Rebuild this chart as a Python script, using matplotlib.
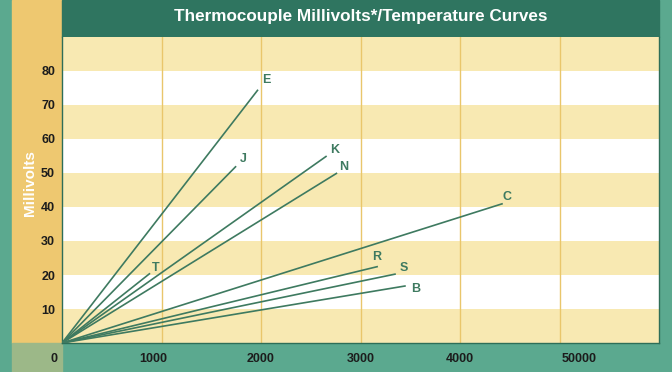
import matplotlib.pyplot as plt
import matplotlib.patches as mpatches
from matplotlib.transforms import ScaledTranslation

# curve end points (temperature, millivolts); all curves start at 0,0
curve_names = ['E', 'J', 'K', 'N', 'T', 'C', 'R', 'S', 'B']
end_temp = [1970, 1750, 2660, 2765, 885, 4430, 3175, 3355, 3455]
end_mv = [74.5, 52, 55, 50, 20.5, 41, 22.5, 20.3, 16.8]
# label offsets from line end (points)
label_off = [(6, 7), (5, 5), (6, 4), (5, 4), (4, 4), (3, 5), (-1, 7), (6, 4), (7, -2)]

x_ticks = [0, 1000, 2000, 3000, 4000, 5000]
x_labels = ['0', '1000', '2000', '3000', '4000', '50000']
y_ticks = [10, 20, 30, 40, 50, 60, 70, 80]

teal = '#5BA98F'
dark_green = '#2F7560'
strip_yellow = '#EEC870'
band_yellow = '#F8E9B2'
grid_gold = '#E9C66B'
line_green = '#3E7A60'

W, H = 672, 372
fig = plt.figure(figsize=(W / 100, H / 100), dpi=100)
fig.patch.set_facecolor(teal)

def fbox(x0, y0, x1, y1, color):
    # pixel box (top-left origin) -> figure patch, kept under the axes
    fig.patches.append(mpatches.Rectangle((x0 / W, 1 - y1 / H), (x1 - x0) / W, (y1 - y0) / H,
                                          transform=fig.transFigure, color=color, zorder=-5))

fbox(12, 0, 62, 343, strip_yellow)
fbox(12, 343, 62, 372, '#9CB888')
fbox(62, 0, 659, 37, dark_green)

fig.text(361 / W, 1 - 16 / H, 'Thermocouple Millivolts*/Temperature Curves', color='white',
         fontsize=12.3, fontweight='bold', family='Liberation Sans', ha='center', va='center')
fig.text(30 / W, 1 - 183 / H, 'Millivolts', color='white', fontsize=11, fontweight='bold',
         family='Liberation Sans', rotation=90, ha='center', va='center')

ax = fig.add_axes([62 / W, (H - 343) / H, (659 - 62) / W, (343 - 37) / H])
ax.set_xlim(0, 6000)
ax.set_ylim(0, 90)

# alternating bands
for i in range(9):
    ax.axhspan(i * 10, (i + 1) * 10, color=band_yellow if i % 2 == 0 else 'white', lw=0, zorder=0)
for xv in x_ticks[1:]:
    ax.axvline(xv, color=grid_gold, lw=1, zorder=1)

for name, tx, mv, off in zip(curve_names, end_temp, end_mv, label_off):
    ax.plot([0, tx], [0, mv], color=line_green, lw=1.2, zorder=3, solid_capstyle='butt')
    ax.annotate(name, (tx, mv), xytext=off, textcoords='offset points', color=line_green,
                fontsize=9, fontweight='bold', family='Liberation Sans', ha='center', va='center')

ax.set_xticks(x_ticks)
ax.set_xticklabels(x_labels)
ax.set_yticks(y_ticks)
ax.tick_params(length=0, labelsize=9, labelcolor='#1C1C1C')
ax.tick_params(axis='x', pad=7)
ax.tick_params(axis='y', pad=5)
for lab in ax.get_xticklabels() + ax.get_yticklabels():
    lab.set_fontweight('bold')
    lab.set_family('Liberation Sans')
xl = ax.get_xticklabels()
xl[0].set_transform(xl[0].get_transform() + ScaledTranslation(-8 / 100, 0, fig.dpi_scale_trans))
xl[1].set_transform(xl[1].get_transform() + ScaledTranslation(-8 / 100, 0, fig.dpi_scale_trans))
xl[5].set_transform(xl[5].get_transform() + ScaledTranslation(20 / 100, 0, fig.dpi_scale_trans))

for s in ax.spines.values():
    s.set_color('#2E6E58')
    s.set_linewidth(1)
ax.spines['top'].set_visible(False)

fig.savefig('out.png', dpi=100, facecolor=fig.get_facecolor())
